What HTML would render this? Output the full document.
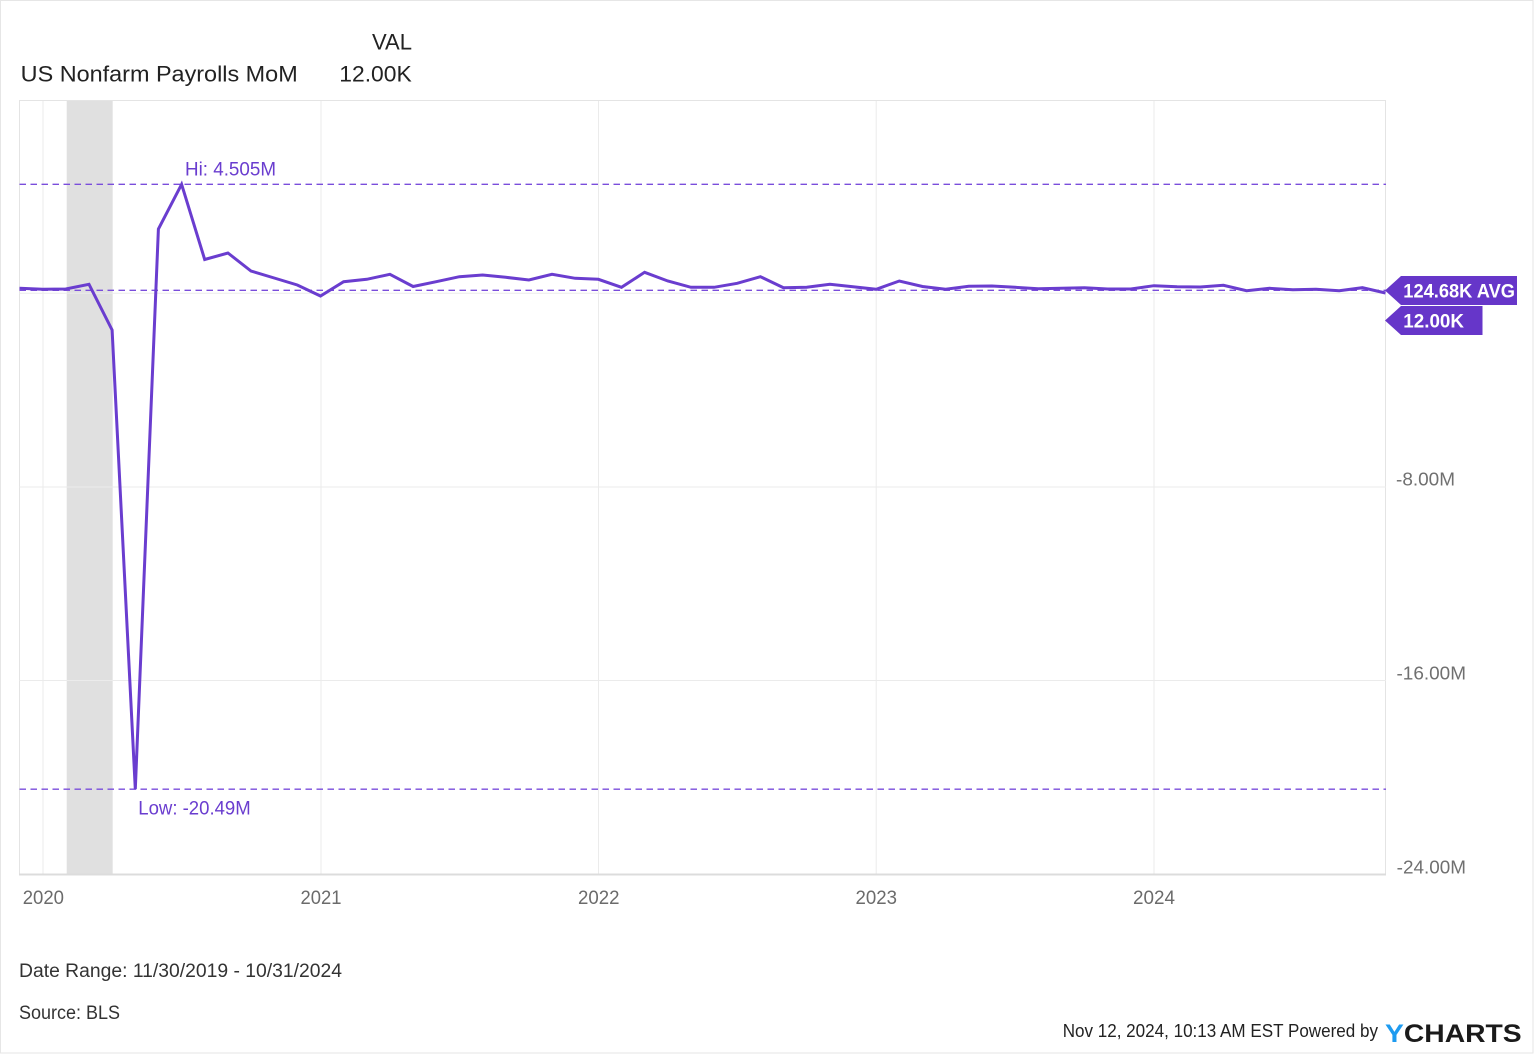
<!DOCTYPE html>
<html>
<head>
<meta charset="utf-8">
<style>
  html, body { margin:0; padding:0; background:#ffffff; }
  body { width:1536px; height:1055px; overflow:hidden; }
  svg { display:block; }
  text { font-family: "Liberation Sans", Arial, sans-serif; }
</style>
</head>
<body>
<svg width="1536" height="1055" viewBox="0 0 1536 1055" xmlns="http://www.w3.org/2000/svg">
  <!-- outer border -->
  <rect x="0.5" y="0.5" width="1532.5" height="1052.5" fill="#ffffff" stroke="#e6e6e6" stroke-width="1"/>

  <!-- header -->
  <text x="412" y="49.3" font-size="22" fill="#222" text-anchor="end" textLength="40" lengthAdjust="spacingAndGlyphs">VAL</text>
  <text x="20.7" y="81.7" font-size="22" fill="#222" textLength="277" lengthAdjust="spacingAndGlyphs">US Nonfarm Payrolls MoM</text>
  <text x="339.3" y="81.7" font-size="22" fill="#222" textLength="72.4" lengthAdjust="spacingAndGlyphs">12.00K</text>

  <!-- plot background / border -->
  <rect x="19.5" y="100.5" width="1366" height="773.5" fill="#ffffff" stroke="#e4e4e4" stroke-width="1"/>

  <!-- recession shading -->
  <rect x="66.7" y="101" width="46" height="773" fill="#e0e0e0"/>

  <!-- vertical gridlines -->
  <g stroke="#ebebeb" stroke-width="1">
    <line x1="43" y1="101" x2="43" y2="874"/>
    <line x1="321" y1="101" x2="321" y2="874"/>
    <line x1="598.5" y1="101" x2="598.5" y2="874"/>
    <line x1="876.2" y1="101" x2="876.2" y2="874"/>
    <line x1="1154" y1="101" x2="1154" y2="874"/>
  </g>
  <!-- horizontal gridlines -->
  <g stroke="#ebebeb" stroke-width="1">
    <line x1="19.5" y1="293.3" x2="1386" y2="293.3"/>
    <line x1="19.5" y1="487" x2="1386" y2="487"/>
    <line x1="19.5" y1="680.5" x2="1386" y2="680.5"/>
  </g>
  <!-- bottom axis -->
  <line x1="19" y1="874.5" x2="1386" y2="874.5" stroke="#dcdcdc" stroke-width="2"/>

  <!-- dashed reference lines -->
  <g stroke="#7a4ddb" stroke-width="1.4" stroke-dasharray="6.5 4.5" fill="none">
    <line x1="19.5" y1="184.3" x2="1386" y2="184.3"/>
    <line x1="19.5" y1="290.3" x2="1386" y2="290.3"/>
    <line x1="19.5" y1="789.2" x2="1386" y2="789.2"/>
  </g>

  <!-- series -->
  <polyline fill="none" stroke="#6a3dcf" stroke-width="3" stroke-linejoin="miter" stroke-miterlimit="10" points="
    19.5,288.3 42.7,289.3 65.8,289 89.0,284.3 112.1,330 135.3,789.2 158.4,229 181.6,184.3
    204.7,259.5 227.9,253 251.0,271 274.2,278 297.3,285 320.5,296 343.6,281.7 366.8,279.3
    389.9,274.3 413.1,286.5 436.2,281.7 459.4,276.7 482.6,275 505.7,277.3 528.9,280 552.0,274.3
    575.2,278.3 598.3,279.3 621.5,287.3 644.6,272.3 667.8,281 690.9,287.3 714.1,287.3 737.2,283.3
    760.4,276.7 783.5,287.7 806.7,287.3 829.9,284.3 853.0,286.7 876.2,289.3 899.3,281 922.5,286.5
    945.6,289.3 968.8,286.3 991.9,286 1015.1,287.3 1038.2,288.7 1061.4,288.3 1084.5,287.7 1107.7,289
    1130.8,289 1154.0,285.7 1177.1,286.7 1200.3,287 1223.4,285.3 1246.6,290.7 1269.7,288.3 1292.9,289.7
    1316.0,289.3 1339.2,290.7 1362.4,287.7 1385.5,293"/>

  <!-- hi / low labels -->
  <text x="185" y="175.7" font-size="19" fill="#6a3dcf" textLength="91" lengthAdjust="spacingAndGlyphs">Hi: 4.505M</text>
  <text x="138.3" y="814.3" font-size="19" fill="#6a3dcf" textLength="112.4" lengthAdjust="spacingAndGlyphs">Low: -20.49M</text>

  <!-- right tags -->
  <polygon points="1385,290.5 1401,276 1517,276 1517,305 1401,305" fill="#6636c9"/>
  <text x="1403.3" y="297.3" font-size="19" font-weight="bold" fill="#ffffff" textLength="111.7" lengthAdjust="spacingAndGlyphs">124.68K AVG</text>
  <polygon points="1385,320.5 1401,306 1482.5,306 1482.5,335 1401,335" fill="#6636c9"/>
  <text x="1403.3" y="327.3" font-size="19" font-weight="bold" fill="#ffffff" textLength="60.7" lengthAdjust="spacingAndGlyphs">12.00K</text>

  <!-- y-axis labels -->
  <g font-size="18.5" fill="#707070">
    <text x="1396" y="485.7" textLength="59" lengthAdjust="spacingAndGlyphs">-8.00M</text>
    <text x="1396.5" y="679.3" textLength="69.5" lengthAdjust="spacingAndGlyphs">-16.00M</text>
    <text x="1396.7" y="873.3" textLength="69.3" lengthAdjust="spacingAndGlyphs">-24.00M</text>
  </g>

  <!-- x-axis labels -->
  <g font-size="19" fill="#6b6b6b">
    <text x="22.7" y="904" textLength="41.3" lengthAdjust="spacingAndGlyphs">2020</text>
    <text x="300.5" y="904" textLength="41" lengthAdjust="spacingAndGlyphs">2021</text>
    <text x="578" y="904" textLength="41.5" lengthAdjust="spacingAndGlyphs">2022</text>
    <text x="855.5" y="904" textLength="41.5" lengthAdjust="spacingAndGlyphs">2023</text>
    <text x="1133" y="904" textLength="42" lengthAdjust="spacingAndGlyphs">2024</text>
  </g>

  <!-- footer -->
  <text x="19" y="977" font-size="19" fill="#333" textLength="323" lengthAdjust="spacingAndGlyphs">Date Range: 11/30/2019 - 10/31/2024</text>
  <text x="19" y="1019" font-size="19" fill="#333" textLength="101" lengthAdjust="spacingAndGlyphs">Source: BLS</text>
  <text x="1062.7" y="1037" font-size="18" fill="#222" textLength="315.3" lengthAdjust="spacingAndGlyphs">Nov 12, 2024, 10:13 AM EST Powered by</text>
  <text x="1385" y="1042" font-size="25" font-weight="bold" fill="#1a1a1a" textLength="136.7" lengthAdjust="spacingAndGlyphs"><tspan fill="#1e9bf0">Y</tspan>CHARTS</text>
</svg>
</body>
</html>
